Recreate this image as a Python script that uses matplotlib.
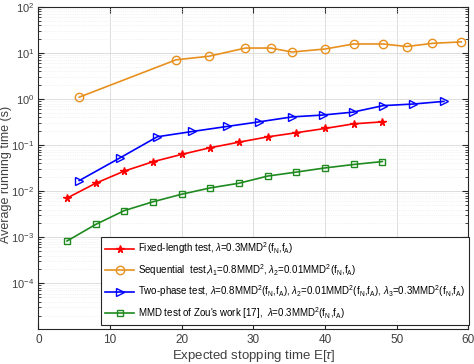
import matplotlib.pyplot as plt
import numpy as np
from matplotlib.ticker import LogLocator, NullFormatter

# data
x_fixed = [4, 8, 12, 16, 20, 24, 28, 32, 36, 40, 44, 48]
y_fixed = [0.0071, 0.0149, 0.0274, 0.0437, 0.063, 0.088, 0.116, 0.151, 0.186, 0.23, 0.29, 0.32]

x_seq = [5.7, 19.2, 23.8, 28.9, 32.4, 35.4, 40.0, 44.0, 48.1, 51.4, 55.0, 59.0]
y_seq = [1.1, 7.1, 8.5, 12.8, 12.8, 10.5, 12.2, 15.7, 15.7, 13.8, 16.2, 17.4]

x_two = [5.7, 11.4, 16.6, 21.5, 26.3, 30.8, 35.4, 39.7, 43.9, 48.1, 52.3, 56.6]
y_two = [0.017, 0.053, 0.152, 0.198, 0.254, 0.32, 0.41, 0.45, 0.52, 0.72, 0.78, 0.89]

x_zou = [4, 8, 12, 16, 20, 24, 28, 32, 36, 40, 44, 48]
y_zou = [0.00083, 0.0019, 0.0038, 0.0059, 0.0086, 0.0118, 0.0149, 0.0213, 0.026, 0.032, 0.038, 0.044]

labels = [
    r"Fixed-length test, $\lambda$=0.3MMD$^2$(f$_\mathrm{N}$,f$_\mathrm{A}$)",
    r"Sequential  test,$\lambda_1$=0.8MMD$^2$, $\lambda_2$=0.01MMD$^2$(f$_\mathrm{N}$,f$_\mathrm{A}$)",
    r"Two-phase test, $\lambda$=0.8MMD$^2$(f$_\mathrm{N}$,f$_\mathrm{A}$), $\lambda_2$=0.01MMD$^2$(f$_\mathrm{N}$,f$_\mathrm{A}$), $\lambda_3$=0.3MMD$^2$(f$_\mathrm{N}$,f$_\mathrm{A}$)",
    r"MMD test of Zou's work [17],  $\lambda$=0.3MMD$^2$(f$_\mathrm{N}$,f$_\mathrm{A}$)",
]

plt.rcParams['font.family'] = ['Liberation Sans', 'DejaVu Sans']
plt.rcParams['mathtext.fontset'] = 'custom'
plt.rcParams['mathtext.rm'] = 'Liberation Sans'
plt.rcParams['mathtext.it'] = 'Liberation Sans:italic'

fig = plt.figure(figsize=(4.74, 3.64), dpi=100)
ax = fig.add_axes([0.081, 0.095, 0.907, 0.886])

ax.plot(x_fixed, y_fixed, color='#ff0000', marker='*', markersize=5.5, lw=1.2, label=labels[0])
ax.plot(x_seq, y_seq, color='#e8901e', marker='o', markersize=6, mfc='none', lw=1.2, label=labels[1])
ax.plot(x_two, y_two, color='#0000ff', marker='>', markersize=6, mfc='none', lw=1.2, label=labels[2])
ax.plot(x_zou, y_zou, color='#1f8a1f', marker='s', markersize=4.5, mfc='none', lw=1.2, label=labels[3])

ax.set_yscale('log')
ax.set_xlim(0, 60)
ax.set_ylim(1e-5, 1e2)
ax.set_xticks(np.arange(0, 61, 10))
ax.set_yticks([1e-4, 1e-3, 1e-2, 1e-1, 1e0, 1e1, 1e2])
ax.yaxis.set_minor_locator(LogLocator(base=10, subs=np.arange(2, 10), numticks=20))
ax.yaxis.set_minor_formatter(NullFormatter())

ax.grid(True, which='major', color='#d8d8d8', lw=0.6)
ax.grid(True, which='minor', color='#e8e8e8', lw=0.5, ls=':')
ax.set_axisbelow(True)
ax.tick_params(which='both', direction='in', top=True, right=True, labelsize=8,
               colors='#262626', labelcolor='#404040', pad=3)
ax.tick_params(axis='x', labelsize=8.5)
ax.tick_params(which='major', length=4)
ax.tick_params(which='minor', length=2)
for s in ax.spines.values():
    s.set_color('#262626')
    s.set_linewidth(0.8)

ax.set_xlabel(r"Expected stopping time E[$\tau$]", fontsize=9.5, color='#404040', labelpad=2)
ax.set_ylabel("Average running time (s)", fontsize=9, color='#404040')
ax.yaxis.set_label_coords(-0.062, 0.48)

leg = ax.legend(loc='lower left', bbox_to_anchor=(0.146, 0.015), fontsize=7,
                frameon=True, fancybox=False, framealpha=1, edgecolor='#262626',
                handlelength=3.0, borderpad=0.4, labelspacing=0.58, handletextpad=0.4,
                borderaxespad=0)
leg.get_frame().set_linewidth(0.8)

plt.savefig('out.png', dpi=100)
